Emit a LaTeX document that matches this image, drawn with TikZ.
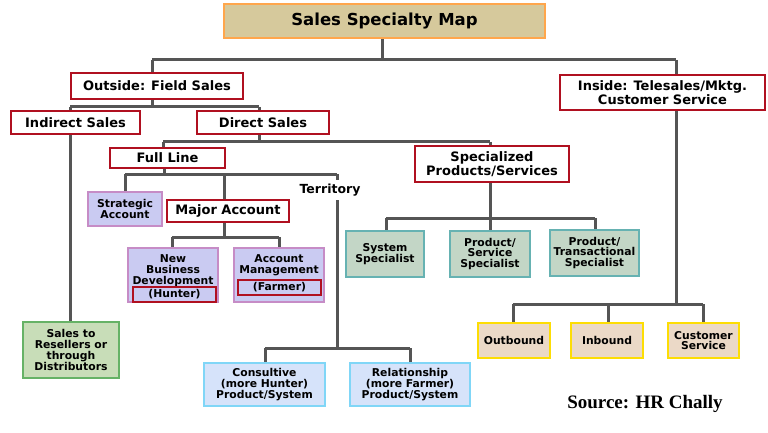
\documentclass[tikz,border=0pt]{standalone}
\usepackage{fontspec}
\setmainfont{DejaVu Sans}
\newfontfamily\srcfont{Liberation Serif}
\definecolor{redb}{HTML}{B01020}
\definecolor{lin}{HTML}{555555}
\definecolor{tan}{HTML}{D6C99C}
\definecolor{lavf}{HTML}{CACBF2}
\definecolor{grnf}{HTML}{C3D6C6}
\definecolor{yelf}{HTML}{EBD9C7}
\definecolor{resf}{HTML}{C8DDB8}
\definecolor{bluf}{HTML}{D6E3FA}
\begin{document}
\begin{tikzpicture}[x=1pt,y=-1pt,
  box/.style={draw, line width=1.2pt, inner sep=0pt, align=center, font=\bfseries\fontsize{10.8}{10.8}\selectfont},
  redbox/.style={draw=redb, line width=2.2pt, fill=white, inner sep=0pt, align=center, font=\bfseries\fontsize{13}{13.5}\selectfont},
  lav/.style={box, draw=violet!45, fill=lavf},
  grn/.style={box, draw=teal!60, fill=grnf},
  yel/.style={box, draw=yellow!80!orange, fill=yelf},
  wire/.style={draw=lin, line width=3pt}]
\fill[white] (0,0) rectangle (768,433);
\useasboundingbox (0,0) rectangle (768,433);
\def\bx#1#2#3#4#5#6#7{\node[#2, minimum width=#5-#3, minimum height=#6-#4] (#1) at ({(#3+#5)/2},{(#4+#6)/2}) {#7};}
% wires first
\coordinate (t1) at (382,60); \coordinate (tl) at (152,60); \coordinate (tr) at (676,60);
\draw[wire] (382,38) -- (t1); \draw[wire] (tl) -- (tr);
\draw[wire] (152,60) -- (152,75); \draw[wire] (676,60) -- (676,76);
\draw[wire] (152,99) -- (152,107); \draw[wire] (70,107) -- (259,107);
\draw[wire] (70,107) -- (70,113); \draw[wire] (259,107) -- (259,113);
\draw[wire] (70,134) -- (70,323);
\draw[wire] (259,134) -- (259,142); \draw[wire] (163,142) -- (490,142);
\draw[wire] (163,142) -- (163,150); \draw[wire] (490,142) -- (490,148);
\draw[wire] (164,168) -- (164,174); \draw[wire] (125,174) -- (337,174);
\draw[wire] (125,174) -- (125,193); \draw[wire] (224,174) -- (224,201); \draw[wire] (337,174) -- (337,180);
\draw[wire] (337,200) -- (337,348); \draw[wire] (265,348) -- (410,348);
\draw[wire] (265,348) -- (265,364); \draw[wire] (410,348) -- (410,364);
\draw[wire] (224,222) -- (224,237); \draw[wire] (172,237) -- (279,237);
\draw[wire] (172,237) -- (172,249); \draw[wire] (279,237) -- (279,249);
\draw[wire] (490,182) -- (490,218); \draw[wire] (386,218) -- (595,218);
\draw[wire] (386,218) -- (386,232); \draw[wire] (490,218) -- (490,232); \draw[wire] (595,218) -- (595,231);
\draw[wire] (676,110) -- (676,304); \draw[wire] (513,304) -- (703,304);
\draw[wire] (513,304) -- (513,324); \draw[wire] (608,304) -- (608,324); \draw[wire] (703,304) -- (703,324);
% boxes
\bx{title}{box, draw=orange!70, fill=tan, line width=1.5pt, font=\bfseries\fontsize{16.5}{17}\selectfont}{224}{4}{545}{38}{Sales Specialty Map}
\bx{outside}{redbox}{71}{73}{243}{99}{Outside: Field Sales}
\bx{inside}{redbox}{560}{75}{765}{110}{Inside: Telesales/Mktg.\\Customer Service}
\bx{indirect}{redbox}{11}{111}{140}{134}{Indirect Sales}
\bx{direct}{redbox}{197}{111}{329}{134}{Direct Sales}
\bx{full}{redbox}{110}{148}{225}{168}{Full Line}
\bx{spec}{redbox}{415}{146}{569}{182}{Specialized\\Products/Services}
\bx{strat}{lav}{88}{192}{162}{226}{Strategic\\Account}
\bx{major}{redbox}{167}{200}{289}{222}{Major Account}
\node[font=\bfseries\fontsize{12.5}{13}\selectfont] (terr) at (330,190) {Territory};
\bx{newbiz}{lav}{128}{248}{218}{302}{New\\Business\\Development\\\mbox{}}
\bx{acct}{lav}{234}{248}{324}{302}{Account\\Management\\\mbox{}\\\mbox{}}
\bx{hunter}{redbox, line width=1.6pt, fill=none, font=\bfseries\fontsize{10.8}{10.8}\selectfont}{133}{287}{216}{302}{(Hunter)}
\bx{farmer}{redbox, line width=1.6pt, fill=none, font=\bfseries\fontsize{10.8}{10.8}\selectfont}{238}{280}{321}{295}{(Farmer)}
\bx{resell}{box, draw=green!50!black!60, fill=resf}{23}{322}{119}{378}{Sales to\\Resellers or\\through\\Distributors}
\bx{consult}{box, draw=cyan!50, fill=bluf}{204}{363}{325}{406}{Consultive\\(more Hunter)\\Product/System}
\bx{relat}{box, draw=cyan!50, fill=bluf}{350}{363}{470}{406}{Relationship\\(more Farmer)\\Product/System}
\bx{sys}{grn}{346}{231}{424}{277}{System\\Specialist}
\bx{ps}{grn}{450}{231}{530}{277}{Product/\\Service\\Specialist}
\bx{pt}{grn}{550}{230}{639}{276}{Product/\\Transactional\\Specialist}
\bx{out}{yel}{478}{323}{550}{358}{Outbound}
\bx{in}{yel}{571}{323}{643}{358}{Inbound}
\bx{cs}{yel}{668}{323}{739}{358}{Customer\\Service}
\node[font=\srcfont\bfseries\fontsize{19}{19}\selectfont] (src) at (645,404) {Source: HR Chally};
\end{tikzpicture}
\end{document}
